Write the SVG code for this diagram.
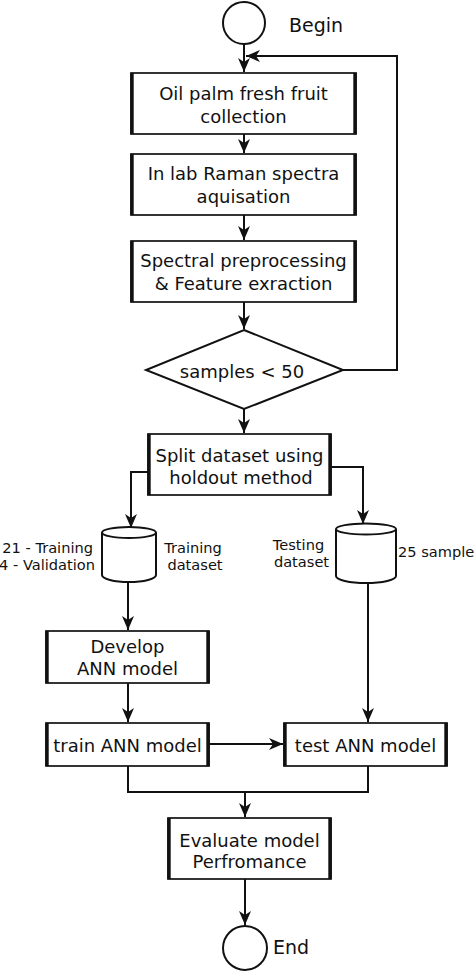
<svg xmlns="http://www.w3.org/2000/svg" width="474" height="971" viewBox="0 0 474 971">
<style>
.t{font-family:"DejaVu Sans",Verdana,sans-serif;font-size:18px;fill:#111;text-anchor:middle}
.b{font-family:"DejaVu Sans",Verdana,sans-serif;font-size:19px;fill:#111}
.s{font-family:"DejaVu Sans",Verdana,sans-serif;font-size:14.6px;fill:#111}
.box{fill:#fff;stroke:#111;stroke-width:1.7}
.side{stroke:#111;stroke-width:3.4}
.ln{fill:none;stroke:#111;stroke-width:2}
.shape{fill:#fff;stroke:#111;stroke-width:2}
</style>
<defs>
<marker id="ah" viewBox="-15 -7 16 14" refX="0" refY="0" markerWidth="16" markerHeight="14" markerUnits="userSpaceOnUse" orient="auto">
<path d="M0,0 L-14,-6 L-10,0 L-14,6 Z" fill="#111"/>
</marker>
</defs>
<rect width="474" height="971" fill="#fff"/>
<g id="connectors">
<line class="ln" x1="244" y1="44" x2="244" y2="72" marker-end="url(#ah)"/>
<polyline class="ln" points="343,370 397,370 397,56 246,56" marker-end="url(#ah)"/>
<line class="ln" x1="244" y1="134" x2="244" y2="153" marker-end="url(#ah)"/>
<line class="ln" x1="244" y1="215" x2="244" y2="240" marker-end="url(#ah)"/>
<line class="ln" x1="244" y1="302" x2="244" y2="329" marker-end="url(#ah)"/>
<line class="ln" x1="244" y1="409" x2="244" y2="433" marker-end="url(#ah)"/>
<polyline class="ln" points="148,472 131,472 131,528" marker-end="url(#ah)"/>
<polyline class="ln" points="331,467 363,467 363,524" marker-end="url(#ah)"/>
<line class="ln" x1="128" y1="582" x2="128" y2="630" marker-end="url(#ah)"/>
<line class="ln" x1="368" y1="583" x2="368" y2="722" marker-end="url(#ah)"/>
<line class="ln" x1="128" y1="683" x2="128" y2="722" marker-end="url(#ah)"/>
<line class="ln" x1="209" y1="744" x2="283" y2="744" marker-end="url(#ah)"/>
<polyline class="ln" points="128,766 128,792 368,792 368,766"/>
<line class="ln" x1="245" y1="792" x2="245" y2="817" marker-end="url(#ah)"/>
<line class="ln" x1="245" y1="879" x2="245" y2="925" marker-end="url(#ah)"/>
</g>
<g id="begin">
<circle class="shape" cx="244" cy="23" r="21"/>
<text class="b" x="289" y="31.7">Begin</text>
</g>
<g id="collect">
<rect class="box" x="131" y="73" width="225" height="61"/>
<line class="side" x1="132" y1="73" x2="132" y2="134"/><line class="side" x1="355" y1="73" x2="355" y2="134"/>
<text class="t" x="243.5" y="99.5">Oil palm fresh fruit</text>
<text class="t" x="243.5" y="122.7">collection</text>
</g>
<g id="raman">
<rect class="box" x="131" y="154" width="225" height="61"/>
<line class="side" x1="132" y1="154" x2="132" y2="215"/><line class="side" x1="355" y1="154" x2="355" y2="215"/>
<text class="t" x="243.5" y="180">In lab Raman spectra</text>
<text class="t" x="243.5" y="202.5">aquisation</text>
</g>
<g id="preprocess">
<rect class="box" x="131" y="241" width="225" height="61"/>
<line class="side" x1="132" y1="241" x2="132" y2="302"/><line class="side" x1="355" y1="241" x2="355" y2="302"/>
<text class="t" x="243.5" y="267.3">Spectral preprocessing</text>
<text class="t" x="243.5" y="290">&amp; Feature exraction</text>
</g>
<g id="decision">
<polygon class="shape" points="244,330 343,370 244,409 146,370"/>
<text class="t" x="242" y="378">samples &lt; 50</text>
</g>
<g id="split">
<rect class="box" x="148" y="434" width="183" height="61"/>
<line class="side" x1="149" y1="434" x2="149" y2="495"/><line class="side" x1="330" y1="434" x2="330" y2="495"/>
<text class="t" x="239.5" y="461.7">Split dataset using</text>
<text class="t" x="241" y="483.5">holdout method</text>
</g>
<g id="training-dataset">
<path class="shape" d="M102,532.5 L102,575 A27,7 0 0 0 156,575 L156,532.5 A27,5.5 0 0 0 102,532.5 A27,5.5 0 0 0 156,532.5"/>
<text class="s" x="93" y="552.7" text-anchor="end">21 - Training</text>
<text class="s" x="95" y="570" text-anchor="end">4 - Validation</text>
<text class="s" x="193" y="552.7" text-anchor="middle">Training</text>
<text class="s" x="195" y="570" text-anchor="middle">dataset</text>
</g>
<g id="testing-dataset">
<path class="shape" d="M336,529 L336,576 A30,7 0 0 0 396,576 L396,529 A30,5.5 0 0 0 336,529 A30,5.5 0 0 0 396,529"/>
<text class="s" x="298.5" y="550" text-anchor="middle">Testing</text>
<text class="s" x="301.5" y="567" text-anchor="middle">dataset</text>
<text class="s" x="398" y="556.7">25 sample</text>
</g>
<g id="develop">
<rect class="box" x="46" y="631" width="163" height="52"/>
<line class="side" x1="47" y1="631" x2="47" y2="683"/><line class="side" x1="208" y1="631" x2="208" y2="683"/>
<text class="t" x="127.5" y="653">Develop</text>
<text class="t" x="127.5" y="675">ANN model</text>
</g>
<g id="train">
<rect class="box" x="46" y="723" width="163" height="43"/>
<line class="side" x1="47" y1="723" x2="47" y2="766"/><line class="side" x1="208" y1="723" x2="208" y2="766"/>
<text class="t" x="127.5" y="751.7">train ANN model</text>
</g>
<g id="test">
<rect class="box" x="284" y="723" width="163" height="43"/>
<line class="side" x1="285" y1="723" x2="285" y2="766"/><line class="side" x1="446" y1="723" x2="446" y2="766"/>
<text class="t" x="365.5" y="751.7">test ANN model</text>
</g>
<g id="evaluate">
<rect class="box" x="168" y="818" width="163" height="61"/>
<line class="side" x1="169" y1="818" x2="169" y2="879"/><line class="side" x1="330" y1="818" x2="330" y2="879"/>
<text class="t" x="249.5" y="846.7">Evaluate model</text>
<text class="t" x="249.5" y="868.3">Perfromance</text>
</g>
<g id="end">
<circle class="shape" cx="245" cy="948" r="22"/>
<text class="b" x="273" y="954">End</text>
</g>
</svg>
